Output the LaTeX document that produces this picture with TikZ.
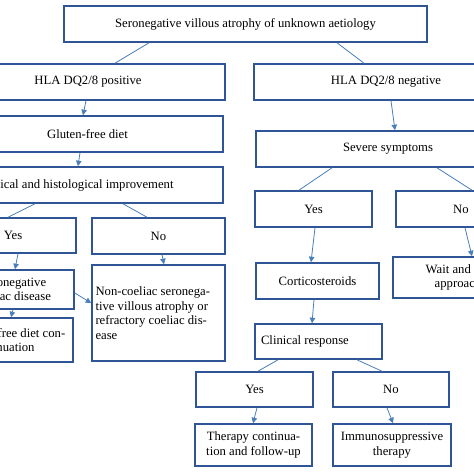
\documentclass[tikz,border=0pt]{standalone}
\usepackage{fontspec}
\setmainfont{Liberation Serif}
\usepackage{tikz}
\usepackage{xcolor}
\usetikzlibrary{arrows.meta}

\definecolor{boxblue}{HTML}{2F5597}
\definecolor{lineblue}{HTML}{4A7EBB}

\begin{document}
\begin{tikzpicture}[
    x=1pt, y=-1pt,
    box/.style={draw=boxblue, line width=1.6pt, fill=white, align=center, inner sep=3pt, font=\fontsize{12.7}{14.5}\selectfont},
    leftbox/.style={box, align=flush left},
    ln/.style={draw=lineblue, line width=0.8pt},
    arr/.style={ln, -{Triangle[length=5.5pt, width=5.5pt]}}
  ]
    \useasboundingbox (0,0) rectangle (474,474);
    \clip (0,0) rectangle (474,474);

    \node[box, minimum width=363pt, minimum height=36pt] (top) at (245.5,24) {Seronegative villous atrophy of unknown aetiology};

    \node[box, minimum width=274pt, minimum height=36pt] (hlapos) at (88,82) {HLA DQ2/8 positive};
    \node[box, minimum width=264pt, minimum height=36pt] (hlaneg) at (386,82) {HLA DQ2/8 negative};

    \node[box, minimum width=271pt, minimum height=36pt] (gfd) at (87.5,134) {Gluten-free diet};
    \node[box, minimum width=294pt, minimum height=36pt] (improve) at (76,185) {Clinical and histological improvement};
    \node[box, minimum width=126pt, minimum height=35pt] (yesL) at (13,235.5) {Yes};
    \node[box, minimum width=133pt, minimum height=36pt] (noL) at (158.5,236) {No};
    \node[box, minimum width=122pt, minimum height=39pt] (sero) at (13,289.5) {Seronegative\\coeliac disease};
    \node[leftbox, text width=126pt, inner xsep=3.5pt, minimum height=96pt] (noncoel) at (158.5,313) {Non-coeliac seronega-\\tive villous atrophy or\\refractory coeliac dis-\\ease};
    \node[box, minimum width=122pt, minimum height=44pt] (gfdcont) at (12,340) {Gluten-free diet con-\\tinuation};

    \node[box, minimum width=264pt, minimum height=36pt] (severe) at (388,149) {Severe symptoms};
    \node[box, minimum width=117pt, minimum height=36pt] (yesR) at (313.5,209) {Yes};
    \node[box, minimum width=130pt, minimum height=36pt] (noR) at (461,209) {No};
    \node[box, minimum width=123pt, minimum height=36pt] (cortico) at (317.5,281) {Corticosteroids};
    \node[box, minimum width=130pt, minimum height=41pt] (wait) at (458,277.5) {Wait and see\\approach};
    \node[leftbox, text width=115pt, inner xsep=6pt, minimum height=35pt] (clinresp) at (318.5,341.5) {Clinical response};
    \node[box, minimum width=117pt, minimum height=35pt] (yesB) at (254.5,389.5) {Yes};
    \node[box, minimum width=116pt, minimum height=35pt] (noB) at (391,389.5) {No};
    \node[box, minimum width=117pt, minimum height=42pt] (therapy) at (253.5,445) {Therapy continua-\\tion and follow-up};
    \node[box, minimum width=118pt, minimum height=42pt] (immuno) at (392,445) {Immunosuppressive\\therapy};

    \draw[ln] ([xshift=-96.5pt]top.south) -- ([xshift=27pt]hlapos.north);
    \draw[ln] ([xshift=91.5pt]top.south) -- ([xshift=-22pt]hlaneg.north);

    \draw[arr] ([xshift=-2pt]hlapos.south) -- ([xshift=-4.5pt]gfd.north);
    \draw[arr] ([xshift=-7.5pt]gfd.south) -- ([xshift=2pt]improve.north);
    \draw[ln] ([xshift=-41pt]improve.south) -- ([xshift=-5pt]yesL.north);
    \draw[ln] ([xshift=47pt]improve.south) -- ([xshift=-11.5pt]noL.north);
    \draw[arr] ([xshift=5pt]yesL.south) -- ([xshift=2pt]sero.north);
    \draw[arr] ([xshift=3.5pt]noL.south) -- ([xshift=5.5pt]noncoel.north);
    \draw[arr] ([yshift=-3.5pt]sero.east) -- ([yshift=10pt]noncoel.west);
    \draw[arr] (sero.south) -- ([xshift=-1pt]gfdcont.north);

    \draw[arr] ([xshift=5pt]hlaneg.south) -- ([xshift=7pt]severe.north);
    \draw[ln] ([xshift=-56pt]severe.south) -- ([xshift=-14.5pt]yesR.north);
    \draw[ln] ([xshift=49pt]severe.south) -- ([xshift=11pt]noR.north);
    \draw[arr] ([xshift=1.5pt]yesR.south) -- ([xshift=-6.5pt]cortico.north);
    \draw[arr] ([xshift=4pt]noR.south) -- ([xshift=14pt]wait.north);
    \draw[arr] ([xshift=-3.5pt]cortico.south) -- ([xshift=-6.5pt]clinresp.north);
    \draw[ln] ([xshift=-40.5pt]clinresp.south) -- ([xshift=3.5pt]yesB.north);
    \draw[ln] ([xshift=38.5pt]clinresp.south) -- ([xshift=-9pt]noB.north);
    \draw[arr] ([xshift=2.5pt]yesB.south) -- ([xshift=-0.5pt]therapy.north);
    \draw[arr] ([xshift=-4pt]noB.south) -- ([xshift=1pt]immuno.north);
  \end{tikzpicture}
\end{document}
